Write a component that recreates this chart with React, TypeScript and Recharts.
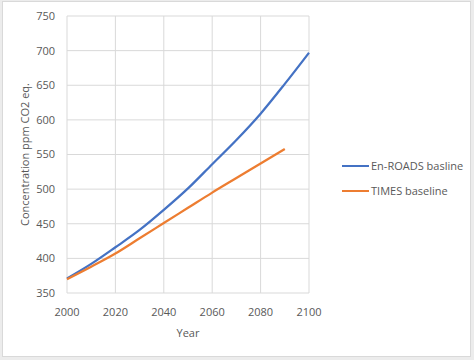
import React from 'react';
import { LineChart, Line, XAxis, YAxis, CartesianGrid } from 'recharts';

const years = [2000, 2010, 2020, 2030, 2040, 2050, 2060, 2070, 2080, 2090, 2100];
const enRoads = [371, 392, 416, 441, 470, 501, 536, 571, 609, 652, 697];
const times = [370, 388, 407, 429, 451, 473, 495, 516, 537, 558, null];
const xTicks = [2000, 2020, 2040, 2060, 2080, 2100];
const yTicks = [350, 400, 450, 500, 550, 600, 650, 700, 750];

const data = years.map((year, i) => ({ year, enRoads: enRoads[i], times: times[i] }));

const FONT = '"Open Sans", sans-serif';
const TEXT = '#595959';
const GRID = '#d9d9d9';

const seriesInfo = [
  { key: 'enRoads', name: 'En-ROADS basline', color: '#4472C4' },
  { key: 'times', name: 'TIMES baseline', color: '#ED7D31' },
];

// legend drawn as plain html so it doesn't shrink the plot
function LegendBox() {
  return (
    <div style={{ position: 'absolute', left: 342, top: 153, fontFamily: FONT, fontSize: 11, color: TEXT }}>
      {seriesInfo.map((s) => (
        <div key={s.key} style={{ display: 'flex', alignItems: 'center', height: 25 }}>
          <div style={{ width: 27, height: 2, background: s.color, marginRight: 2 }} />
          <span>{s.name}</span>
        </div>
      ))}
    </div>
  );
}

const YLabel = (props: any) => {
  const vb = props.viewBox;
  const cx = vb.x + 24;
  const cy = vb.y + vb.height / 2;
  return (
    <text x={cx} y={cy} transform={`rotate(-90 ${cx} ${cy})`} textAnchor="middle" dominantBaseline="central"
      fill={TEXT} fontSize={11} fontFamily={FONT}>
      Concentration ppm CO2 eq.
    </text>
  );
};

export default function App() {
  return (
    <div style={{ position: 'absolute', left: 0, top: 0, width: 474, height: 360, background: '#ececec' }}>
      <div style={{ position: 'absolute', left: 2, top: 1, width: 467, height: 354, background: '#fff', border: `1px solid ${GRID}` }} />
      <div style={{ position: 'absolute', left: 0, top: 0 }}>
        <LineChart width={474} height={360} data={data} margin={{ top: 16, right: 165, bottom: 27, left: 0 }}>
          <CartesianGrid stroke={GRID} strokeWidth={1} />
          <XAxis
            dataKey="year"
            type="number"
            domain={[2000, 2100]}
            ticks={xTicks}
            interval={0}
            height={40}
            axisLine={false}
            tickLine={false}
            tickMargin={9}
            tick={{ fill: TEXT, fontSize: 11, fontFamily: FONT }}
            label={{ value: 'Year', position: 'insideBottom', offset: -4, fill: TEXT, fontSize: 11, fontFamily: FONT }}
          />
          <YAxis
            type="number"
            domain={[350, 750]}
            ticks={yTicks}
            interval={0}
            width={67}
            axisLine={false}
            tickLine={false}
            tickMargin={6}
            tick={{ fill: TEXT, fontSize: 11, fontFamily: FONT }}
            label={<YLabel />}
          />
          {seriesInfo.map((s) => (
            <Line
              key={s.key}
              type="monotone"
              dataKey={s.key}
              name={s.name}
              stroke={s.color}
              strokeWidth={2.25}
              dot={false}
              connectNulls={false}
              isAnimationActive={false}
            />
          ))}
        </LineChart>
      </div>
      <LegendBox />
    </div>
  );
}
